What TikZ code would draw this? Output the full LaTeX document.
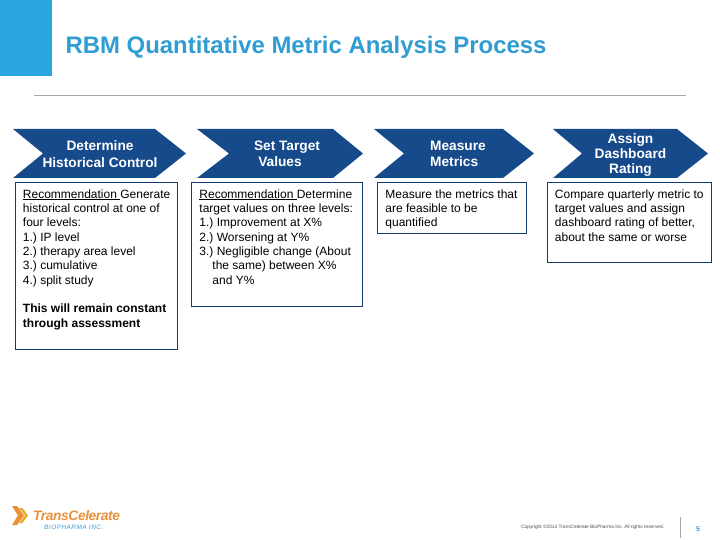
\documentclass[tikz,border=0pt]{standalone}
\usepackage{fontspec}
\setmainfont{Liberation Sans}
\frenchspacing
\definecolor{chevblue}{HTML}{164A8A}
\definecolor{sqblue}{HTML}{29A5E0}
\definecolor{titleblue}{HTML}{2F9CD3}
\definecolor{logoor}{HTML}{E8913A}
\definecolor{logobl}{HTML}{3A9AD0}
\newcommand{\bodyf}{\fontsize{12}{14.35}\selectfont}
\newcommand{\boxtxt}[3]{\parbox[t][#2pt][t]{#1pt}{\bodyf #3}}
\newcommand{\rec}{\underline{Recommendation }}
\tikzset{
  x=1pt,y=-1pt,
  chev/.style={fill=chevblue,draw=none},
  chevlabel/.style={text=white,font=\bfseries\fontsize{13.7}{15}\selectfont,align=center,inner sep=0pt},
  infobox/.style={draw=chevblue!80!black,line width=0.9pt,fill=white,anchor=north west,inner sep=0pt,align=left},
}
\begin{document}
\begin{tikzpicture}
\useasboundingbox (0,0) rectangle (720,540);
\fill[sqblue] (0,0) rectangle (52,76);
\node[anchor=west,inner sep=0pt,text=titleblue,font=\bfseries\fontsize{23.9}{28}\selectfont] (title) at (65.5,47.5) {RBM Quantitative Metric Analysis Process};
\coordinate (ruleL) at (34,95.5);
\coordinate (ruleR) at (686,95.5);
\draw[black!35,line width=0.8pt] (ruleL) -- (ruleR);

\fill[chev] (13,129) -- (155,129) -- (186,153.5) -- (155,178) -- (13,178) -- (43,153.5) -- cycle;
\fill[chev] (197,129) -- (333,129) -- (363,153.5) -- (333,178) -- (197,178) -- (229,153.5) -- cycle;
\fill[chev] (374,129) -- (503,129) -- (534,153.5) -- (503,178) -- (374,178) -- (404,153.5) -- cycle;
\fill[chev] (553,129) -- (677,129) -- (708,153.5) -- (677,178) -- (553,178) -- (582,153.5) -- cycle;

\node[chevlabel] (c1) at (100,154) {Determine\\[1.5pt]Historical Control};
\node[chevlabel] (c2) at (284,154) {\hspace*{6pt}Set Target\\[1.5pt]\hspace*{-8pt}Values};
\node[chevlabel,align=left,anchor=west] (c3) at (430,154) {Measure\\[1.5pt]Metrics};
\node[chevlabel] (c4) at (630.5,155) {Assign\\Dashboard\\Rating};

\node[infobox,inner xsep=7.5pt,inner ysep=7pt] (b1) at (15,182) {\boxtxt{147}{153}{\rec Generate\\
historical control at one of\\four levels:\\1.) IP level\\2.) therapy area level\\3.) cumulative\\4.) split study\\[14.35pt]
\textbf{This will remain constant}\\\textbf{through assessment}}};
\node[infobox,inner xsep=8pt,inner ysep=7pt] (b2) at (191,182) {\boxtxt{155}{110}{\rec Determine\\
target values on three levels:\\1.) Improvement at X\%\\2.) Worsening at Y\%\\3.) Negligible change (About\\
\hspace*{13pt}the same) between X\%\\\hspace*{13pt}and Y\%}};
\node[infobox,inner xsep=8pt,inner ysep=7pt] (b3) at (377,182) {\boxtxt{133}{37}{Measure the metrics that\\are feasible to be\\quantified}};
\node[infobox,inner xsep=7.5pt,inner ysep=7pt] (b4) at (547,182) {\boxtxt{149}{66}{Compare quarterly metric to\\target values and assign\\dashboard rating of better,\\about the same or worse}};

% logo
\fill[logoor] (12,506) -- (17,506) -- (24,515.5) -- (17,525) -- (12,525) -- (18,515.5) -- cycle;
\fill[logoor!75!yellow] (19,508) -- (22.5,508) -- (28,515.5) -- (22.5,523) -- (19,523) -- (25,515.5) -- cycle;
\node[anchor=west,inner sep=0pt,text=logoor,font=\bfseries\itshape\fontsize{13.8}{15}\selectfont] (logo) at (33,515.5) {\addfontfeature{LetterSpace=-3}TransCelerate};
\node[anchor=west,inner sep=0pt,text=logobl,font=\itshape\fontsize{6.4}{7}\selectfont] (logosub) at (44,527) {\addfontfeature{LetterSpace=8}BIOPHARMA INC.};

% footer
\node[anchor=west,inner sep=0pt,text=black!70,font=\fontsize{4.8}{5}\selectfont] (copy) at (521,527.5) {Copyright ©2014 TransCelerate BioPharma Inc. All rights reserved.};
\coordinate (sepT) at (680.5,517);
\coordinate (sepB) at (680.5,538);
\draw[black!35,line width=0.8pt] (sepT) -- (sepB);
\node[inner sep=0pt,text=logobl,font=\bfseries\fontsize{7}{8}\selectfont] (pg) at (698,529) {5};
\end{tikzpicture}
\end{document}
